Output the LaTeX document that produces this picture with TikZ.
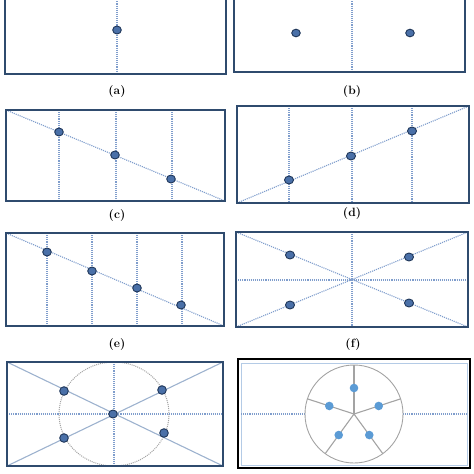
\documentclass[tikz,border=0pt]{standalone}
\usepackage{tikz}
\usetikzlibrary{calc}
\definecolor{framenavy}{HTML}{2F4B6E}
\definecolor{guideblue}{HTML}{7F9DCC}
\definecolor{spotfill}{HTML}{4A70A8}
\definecolor{spotedge}{HTML}{1F3659}
\definecolor{spokegray}{HTML}{A3A3A3}
\definecolor{petalblue}{HTML}{5B9BD5}
\definecolor{paleblue}{HTML}{B4CBE6}
\definecolor{slateline}{HTML}{9DB2CE}
\tikzset{
	frame/.style={draw=framenavy, line width=1.9pt},
	guide/.style={draw=guideblue, densely dotted, line width=1.1pt},
	spot/.style={fill=spotfill, draw=spotedge, line width=0.9pt},
	petal/.style={fill=petalblue},
	sublabel/.style={font=\bfseries\large, inner sep=1pt}
}
\begin{document}
\begin{tikzpicture}[x=1pt, y=-1pt]
			%%%%% START %%%%%
			\useasboundingbox (0, 0) rectangle (474, 474);
			\clip (0, 0) rectangle (474, 474);
			
			% (a)
			\draw[guide] (117, -5) -- (117, 74);
			\draw[frame] (5, -5) rectangle (226, 74);
			\draw[spot] (117, 30) ellipse (4.3 and 4);
			\node[sublabel] (lbla) at (117, 92) {(a)};
			
			% (b)
			\draw[guide] (352, -5) -- (352, 72);
			\draw[frame] (234, -5) rectangle (465, 72);
			\draw[spot] (296, 33) ellipse (4.3 and 3.8);
			\draw[spot] (410, 33) ellipse (4.3 and 3.8);
			\node[sublabel] (lblb) at (352, 92) {(b)};
			
			% (c)
			\draw[guide] (59, 110) -- (59, 201);
			\draw[guide] (116, 110) -- (116, 201);
			\draw[guide] (172, 110) -- (172, 201);
			\draw[guide] (6, 110) -- (225, 201);
			\draw[frame] (6, 110) rectangle (225, 201);
			\draw[spot] (59, 132) ellipse (4.3 and 4);
			\draw[spot] (115, 155) ellipse (4.3 and 4);
			\draw[spot] (171, 179) ellipse (4.3 and 4);
			\node[sublabel] (lblc) at (117, 216) {(c)};
			
			% (d)
			\draw[guide] (289, 106) -- (289, 203);
			\draw[guide] (352, 106) -- (352, 203);
			\draw[guide] (412, 106) -- (412, 203);
			\draw[guide] (237, 203) -- (469, 106);
			\draw[frame] (237, 106) rectangle (469, 203);
			\draw[spot] (289, 180) ellipse (4.5 and 4);
			\draw[spot] (351, 156) ellipse (4.5 and 4);
			\draw[spot] (412, 131) ellipse (4.5 and 4);
			\node[sublabel] (lbld) at (352, 214) {(d)};
			
			% (e)
			\draw[guide] (47, 233) -- (47, 326);
			\draw[guide] (92, 233) -- (92, 326);
			\draw[guide] (137, 233) -- (137, 326);
			\draw[guide] (182, 233) -- (182, 326);
			\draw[guide] (6, 233) -- (224, 326);
			\draw[frame] (6, 233) rectangle (224, 326);
			\draw[spot] (47, 252) ellipse (4.3 and 4);
			\draw[spot] (92, 271) ellipse (4.3 and 4);
			\draw[spot] (137, 288) ellipse (4.3 and 4);
			\draw[spot] (181, 305) ellipse (4.3 and 4);
			\node[sublabel] (lble) at (117, 345) {(e)};
			
			% (f)
			\draw[guide] (352, 232) -- (352, 327);
			\draw[guide] (236, 280) -- (468, 280);
			\draw[guide] (236, 232) -- (468, 327);
			\draw[guide] (236, 327) -- (468, 232);
			\draw[frame] (236, 232) rectangle (468, 327);
			\draw[spot] (290, 255) ellipse (4.5 and 4);
			\draw[spot] (409, 257) ellipse (4.5 and 4);
			\draw[spot] (290, 305) ellipse (4.5 and 4);
			\draw[spot] (409, 303) ellipse (4.5 and 4);
			\node[sublabel] (lblf) at (353, 345) {(f)};
			
			% (g)
			\draw[draw=spokegray, densely dotted, line width=1pt] (114, 414) ellipse (55 and 52);
			\draw[guide] (114, 362) -- (114, 466);
			\draw[guide] (7, 414) -- (223, 414);
			\draw[slateline, line width=1.1pt] (7, 362) -- (223, 466);
			\draw[slateline, line width=1.1pt] (7, 466) -- (223, 362);
			\draw[frame] (7, 362) rectangle (223, 466);
			\draw[spot] (113, 414) ellipse (4.3 and 4);
			\draw[spot] (64, 391) ellipse (4.3 and 4.3);
			\draw[spot] (162, 390) ellipse (4.3 and 4.3);
			\draw[spot] (64, 438) ellipse (4.3 and 4.3);
			\draw[spot] (164, 433) ellipse (4.3 and 4.3);
			
			% (h)
			\draw[black, line width=2pt] (238, 359) rectangle (470, 468);
			\draw[paleblue, line width=0.8pt] (241, 363) rectangle (467, 465);
			\draw[guide] (241, 414) -- (305, 414);
			\draw[guide] (403, 414) -- (467, 414);
			\draw[spokegray, line width=0.9pt] (354, 414) circle (49);
			\foreach \ang in {90, 18, 162, 234, 306}
				\draw[spokegray, line width=1.1pt] (354, 414) -- ++(\ang:49 and -49);
			\foreach \ang in {90, 18, 162, 234, 306}
				\fill[petal] (354, 414) ++(\ang:26 and -26) circle (4.3);
			
			%%%%% END %%%%%
\end{tikzpicture}
\end{document}
